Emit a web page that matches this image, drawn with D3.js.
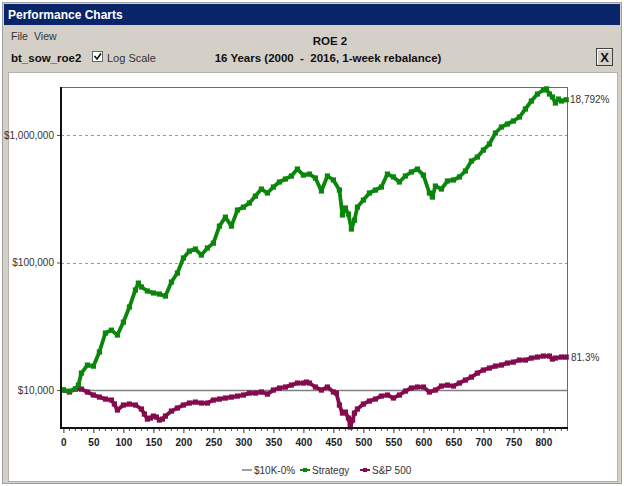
<!DOCTYPE html>
<html>
<head>
<meta charset="utf-8">
<script src="https://cdn.jsdelivr.net/npm/d3@7"></script>
<style>
  html, body { margin: 0; padding: 0; background: #fff; }
  svg { display: block; }
  text { font-family: "Liberation Sans", Arial, sans-serif; }
</style>
</head>
<body>
<svg id="chart" width="624" height="486"></svg>
<script>
// ---- data ----
const xTickValues = [0, 50, 100, 150, 200, 250, 300, 350, 400, 450, 500, 550, 600, 650, 700, 750, 800];
const yTickValues = [10000, 100000, 1000000];
const yTickLabels = ["$10,000", "$100,000", "$1,000,000"];
const baselineValue = 10000;

const stratWeeks = [0,10,20,25,30,40,50,60,70,80,90,100,110,120,125,130,140,150,160,170,180,190,200,210,220,230,240,250,260,270,280,290,300,310,320,330,340,350,360,370,380,390,400,410,420,430,440,450,460,465,470,475,480,485,490,500,510,520,530,540,550,560,570,580,590,600,610,615,620,630,640,650,660,670,680,690,700,710,720,730,740,750,760,770,780,790,800,805,810,815,820,825,830,838];
const stratValues = [10000,9800,10200,10940,13600,15700,15400,19900,28000,29500,27000,34100,44800,60900,69000,64300,59800,57700,56600,54600,70300,82700,108500,123000,127600,114500,130000,142000,193000,227000,193000,258000,272000,293000,332000,377000,351000,391000,428000,452000,477000,541000,485000,494000,460000,364000,477000,444000,370000,236000,268000,240000,183000,215000,272000,309000,351000,370000,391000,494000,469000,428000,477000,513000,541000,485000,351000,326000,398000,377000,436000,444000,469000,522000,625000,672000,762000,850000,1037000,1156000,1220000,1288000,1384000,1600000,1848000,2097000,2255000,2300000,2097000,1986000,1782000,1915000,1848000,1889200];

const spWeeks = [0,10,20,30,40,50,60,70,80,85,90,100,110,120,130,135,140,145,150,155,160,165,170,180,190,200,210,220,230,240,250,260,270,280,290,300,310,320,330,340,350,360,370,380,390,400,405,410,420,430,440,450,455,460,465,470,475,478,482,485,490,500,510,520,530,540,550,560,570,580,590,600,610,620,630,640,650,660,670,680,690,700,710,720,730,740,750,760,770,780,790,800,810,815,820,830,838];
const spValues = [10000,9650,10180,10180,9650,9140,8810,8500,8350,7770,6970,7630,7770,7630,7100,6480,5920,6030,6250,6140,5820,5920,6250,6840,7230,7630,7910,8050,7910,7910,8350,8500,8660,8810,8970,9140,9470,9470,9650,9300,10000,10370,10560,10940,11350,11350,11550,11350,10560,10000,10560,9650,9470,7630,6600,6720,6030,5130,5820,6600,7100,7770,8200,8500,8970,9140,8660,9140,9820,10370,10560,10560,9650,10000,10750,10940,10750,11350,11980,12640,13590,14350,14880,15420,15710,16280,16580,17190,17190,17820,18150,18480,18480,17500,17820,18150,18130];

const seriesNames = ["$10K-0%", "Strategy", "S&P 500"];
const endLabels = ["18,792%", "81.3%"];

// ---- drawing ----
const svg = d3.select("#chart");
const W = 624, H = 486;

// window chrome
svg.append("rect").attr("x", 0).attr("y", 0).attr("width", W).attr("height", H).attr("fill", "#ffffff");
svg.append("rect").attr("x", 2.5).attr("y", 2.5).attr("width", 619).attr("height", 481)
  .attr("fill", "#d4d0c8").attr("stroke", "#a0a0a0");
svg.append("rect").attr("x", 4).attr("y", 4).attr("width", 616).attr("height", 21).attr("fill", "#0a246a");
svg.append("text").attr("x", 8).attr("y", 19).attr("fill", "#fff").attr("font-size", 12)
  .attr("font-weight", "bold").text("Performance Charts");

svg.append("text").attr("x", 11).attr("y", 40).attr("font-size", 10.5).attr("fill", "#333").text("File");
svg.append("text").attr("x", 34).attr("y", 40).attr("font-size", 10.5).attr("fill", "#333").text("View");
svg.append("text").attr("x", 11).attr("y", 62).attr("font-size", 11.5).attr("font-weight", "bold").attr("fill", "#111").text("bt_sow_roe2");
svg.append("rect").attr("x", 92.5).attr("y", 51.5).attr("width", 10).attr("height", 10)
  .attr("fill", "#fff").attr("stroke", "#666");
svg.append("path").attr("d", "M94.5,56 L97,59 L101,53.5").attr("fill", "none").attr("stroke", "#111").attr("stroke-width", 1.6);
svg.append("text").attr("x", 107).attr("y", 62).attr("font-size", 11).attr("fill", "#333").text("Log Scale");
svg.append("text").attr("x", 330).attr("y", 45).attr("text-anchor", "middle").attr("font-size", 11.5)
  .attr("font-weight", "bold").attr("fill", "#111").text("ROE 2");
svg.append("text").attr("x", 328).attr("y", 62).attr("text-anchor", "middle").attr("font-size", 11.5)
  .attr("font-weight", "bold").attr("fill", "#111").attr("xml:space", "preserve")
  .style("white-space", "pre").text("16 Years (2000  -  2016, 1-week rebalance)");
// close button
svg.append("rect").attr("x", 596.5).attr("y", 48.5).attr("width", 16).attr("height", 17)
  .attr("fill", "#d4d0c8").attr("stroke", "#404040");
svg.append("path").attr("d", "M597.5,64.5 L597.5,49.5 L611.5,49.5").attr("fill", "none").attr("stroke", "#fff");
svg.append("text").attr("x", 604.5).attr("y", 62).attr("text-anchor", "middle").attr("font-size", 13)
  .attr("font-weight", "bold").attr("fill", "#111").text("X");

// white chart panel
svg.append("rect").attr("x", 8.5).attr("y", 72.5).attr("width", 609).attr("height", 409)
  .attr("fill", "#ffffff").attr("stroke", "#b0b0b0");

// plot geometry
const L = 61, R = 568, T = 87, B = 428;
const x = d3.scaleLinear().domain([-4, 841]).range([L, R]);
const y = d3.scaleLog().domain([5040, 2380000]).range([B, T]);

const g = svg.append("g");

// gridlines
g.selectAll("line.grid").data(yTickValues.filter(v => v !== baselineValue)).enter().append("line")
  .attr("x1", L).attr("x2", R).attr("y1", d => Math.round(y(d)) + 0.5).attr("y2", d => Math.round(y(d)) + 0.5)
  .attr("stroke", "#9a9a9a").attr("stroke-dasharray", "3,3");

// baseline $10K-0%
g.append("line").attr("x1", L).attr("x2", R)
  .attr("y1", Math.round(y(baselineValue)) + 0.5).attr("y2", Math.round(y(baselineValue)) + 0.5)
  .attr("stroke", "#808080").attr("stroke-width", 1.6);

// frame
g.append("line").attr("x1", L).attr("x2", R).attr("y1", T + 0.5).attr("y2", T + 0.5).attr("stroke", "#6a6a6a");
g.append("line").attr("x1", R - 0.5).attr("x2", R - 0.5).attr("y1", T).attr("y2", B).attr("stroke", "#6a6a6a");

// series
function drawSeries(weeks, values, color) {
  const pts = weeks.map((w, i) => [w, values[i]]);
  const line = d3.line().x(d => x(d[0])).y(d => y(d[1]));
  g.append("path").datum(pts).attr("d", line).attr("fill", "none")
    .attr("stroke", color).attr("stroke-width", 3.8).attr("stroke-linejoin", "round");
  g.selectAll(null).data(pts).enter().append("rect")
    .attr("x", d => x(d[0]) - 2.6).attr("y", d => y(d[1]) - 2.6)
    .attr("width", 5.2).attr("height", 5.2).attr("fill", color);
}
drawSeries(spWeeks, spValues, "#850a4e");
drawSeries(stratWeeks, stratValues, "#0a870a");

// axes
const xAxis = d3.axisBottom(x).tickValues(xTickValues).tickSize(5).tickFormat(d3.format("d"));
const xg = svg.append("g").attr("transform", `translate(0,${B})`).call(xAxis);
xg.select(".domain").remove();
xg.selectAll("text").attr("font-size", 10).attr("font-weight", "bold").attr("fill", "#222").attr("dy", "0.95em");
xg.selectAll("line").attr("stroke", "#333");
// minor x ticks
const minor = d3.range(0, 841, 10).filter(v => v % 50 !== 0);
svg.append("g").selectAll("line").data(minor).enter().append("line")
  .attr("x1", d => x(d)).attr("x2", d => x(d)).attr("y1", B).attr("y2", B + 3).attr("stroke", "#555");

const yAxis = d3.axisLeft(y).tickValues(yTickValues).tickSize(4)
  .tickFormat((d, i) => yTickLabels[yTickValues.indexOf(d)]);
const yg = svg.append("g").attr("transform", `translate(${L},0)`).call(yAxis);
yg.select(".domain").remove();
yg.selectAll("text").attr("font-size", 10).attr("fill", "#333");
yg.selectAll("line").attr("stroke", "#555");

// axis lines (left/bottom dark)
svg.append("line").attr("x1", L).attr("x2", L).attr("y1", T).attr("y2", B + 1).attr("stroke", "#111").attr("stroke-width", 2);
svg.append("line").attr("x1", L - 1).attr("x2", R).attr("y1", B).attr("y2", B).attr("stroke", "#111").attr("stroke-width", 2);

// end labels
svg.append("text").attr("x", 570).attr("y", y(stratValues[stratValues.length - 1]) + 3.5)
  .attr("font-size", 10).attr("fill", "#333").text(endLabels[0]);
svg.append("text").attr("x", 571).attr("y", y(spValues[spValues.length - 1]) + 3.5)
  .attr("font-size", 10).attr("fill", "#333").text(endLabels[1]);

// legend
const lg = svg.append("g").attr("transform", "translate(0,470)");
const legendItems = [
  { name: seriesNames[0], color: "#808080", x0: 242, marker: false },
  { name: seriesNames[1], color: "#0a870a", x0: 300, marker: true },
  { name: seriesNames[2], color: "#850a4e", x0: 360, marker: true }
];
legendItems.forEach(it => {
  lg.append("line").attr("x1", it.x0).attr("x2", it.x0 + 10).attr("y1", 0).attr("y2", 0)
    .attr("stroke", it.color).attr("stroke-width", it.marker ? 2 : 1.5);
  if (it.marker) {
    lg.append("rect").attr("x", it.x0 + 3).attr("y", -2).attr("width", 4).attr("height", 4).attr("fill", it.color);
  }
  lg.append("text").attr("x", it.x0 + 12).attr("y", 3.5).attr("font-size", 10).attr("fill", "#333").text(it.name);
});
</script>
</body>
</html>
